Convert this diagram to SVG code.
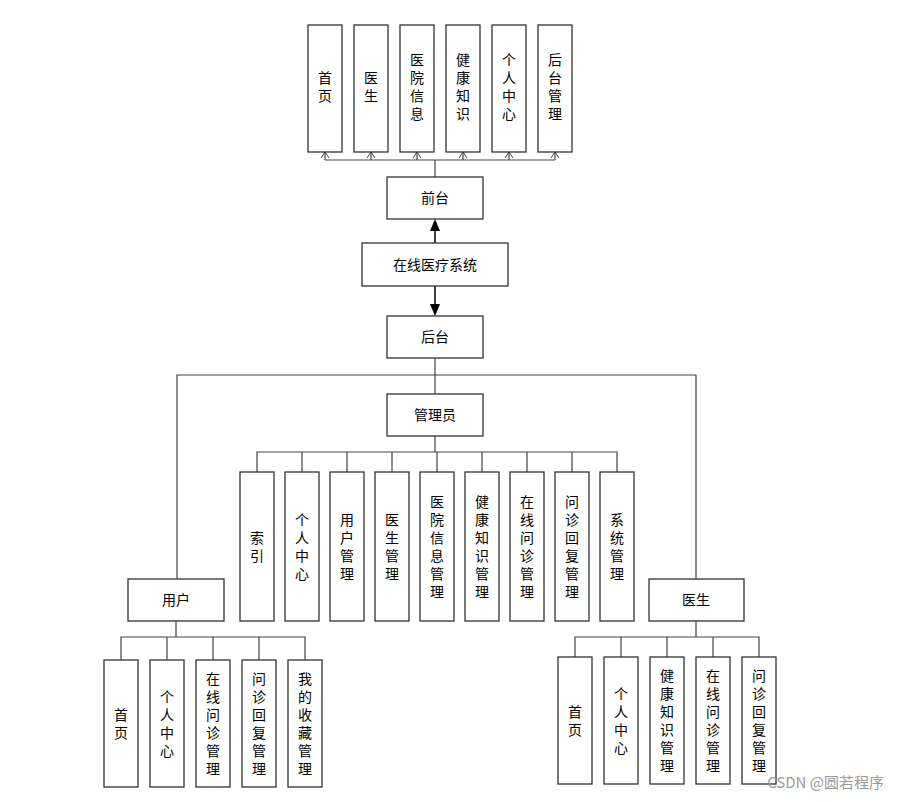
<svg xmlns="http://www.w3.org/2000/svg" width="898" height="802" viewBox="0 0 898 802">
<style>
.b{fill:#fff;stroke:#333;stroke-width:1.3}
.t{font-family:"Noto Sans CJK SC",sans-serif;font-size:14px;fill:#000;text-anchor:middle}
.l{fill:none;stroke:#444;stroke-width:1.2}
</style>
<defs>
<marker id="oa" markerWidth="8" markerHeight="10" refX="7" refY="5" orient="auto" markerUnits="userSpaceOnUse" viewBox="0 0 8 10"><path d="M1,1 L7,5 L1,9" fill="none" stroke="#444" stroke-width="1"/></marker>
</defs>
<rect width="898" height="802" fill="#fff"/>
<g id="connectors">
<path class="l" d="M325,160H555M435,160V177"/>
<path class="l" marker-end="url(#oa)" d="M325,160V152"/>
<path class="l" marker-end="url(#oa)" d="M371,160V152"/>
<path class="l" marker-end="url(#oa)" d="M417,160V152"/>
<path class="l" marker-end="url(#oa)" d="M463,160V152"/>
<path class="l" marker-end="url(#oa)" d="M509,160V152"/>
<path class="l" marker-end="url(#oa)" d="M555,160V152"/>
<path d="M435,243V231" stroke="#000" stroke-width="1.5" fill="none"/>
<path d="M435,231 l-5,0 l5,-12 l5,12 z" fill="#000"/>
<path d="M435,286V304" stroke="#000" stroke-width="1.5" fill="none"/>
<path d="M430,304 l10,0 l-5,12 z" fill="#000"/>
<path class="l" d="M435,358V394M177,579V375H696V579"/>
<path class="l" d="M435,436V452M257,472V452H617V472M302,452V472M347,452V472M392,452V472M437,452V472M482,452V472M527,452V472M572,452V472"/>
<path class="l" d="M176,621V637M121,660V637H305V660M167,637V660M213,637V660M259,637V660"/>
<path class="l" d="M696,621V637M575,657V637H759V657M621,637V657M667,637V657M713,637V657"/>
</g>
<g id="top">
<rect class="b" x="308" y="25" width="34" height="127"/><text class="t"><tspan x="325" y="83">首</tspan><tspan x="325" y="101">页</tspan></text>
<rect class="b" x="354" y="25" width="34" height="127"/><text class="t"><tspan x="371" y="83">医</tspan><tspan x="371" y="101">生</tspan></text>
<rect class="b" x="400" y="25" width="34" height="127"/><text class="t"><tspan x="417" y="65">医</tspan><tspan x="417" y="83">院</tspan><tspan x="417" y="101">信</tspan><tspan x="417" y="119">息</tspan></text>
<rect class="b" x="446" y="25" width="34" height="127"/><text class="t"><tspan x="463" y="65">健</tspan><tspan x="463" y="83">康</tspan><tspan x="463" y="101">知</tspan><tspan x="463" y="119">识</tspan></text>
<rect class="b" x="492" y="25" width="34" height="127"/><text class="t"><tspan x="509" y="65">个</tspan><tspan x="509" y="83">人</tspan><tspan x="509" y="101">中</tspan><tspan x="509" y="119">心</tspan></text>
<rect class="b" x="538" y="25" width="34" height="127"/><text class="t"><tspan x="555" y="65">后</tspan><tspan x="555" y="83">台</tspan><tspan x="555" y="101">管</tspan><tspan x="555" y="119">理</tspan></text>
</g>
<g id="qiantai"><rect class="b" x="387" y="177" width="96" height="42"/><text class="t" x="435" y="203">前台</text></g>
<g id="system"><rect class="b" x="362" y="243" width="146" height="43"/><text class="t" x="435" y="270">在线医疗系统</text></g>
<g id="houtai"><rect class="b" x="387" y="316" width="96" height="42"/><text class="t" x="435" y="342">后台</text></g>
<g id="admin"><rect class="b" x="387" y="394" width="96" height="42"/><text class="t" x="435" y="420">管理员</text></g>
<g id="admin-children">
<rect class="b" x="240" y="472" width="34" height="149"/><text class="t"><tspan x="257" y="543">索</tspan><tspan x="257" y="561">引</tspan></text>
<rect class="b" x="285" y="472" width="34" height="149"/><text class="t"><tspan x="302" y="525">个</tspan><tspan x="302" y="543">人</tspan><tspan x="302" y="561">中</tspan><tspan x="302" y="579">心</tspan></text>
<rect class="b" x="330" y="472" width="34" height="149"/><text class="t"><tspan x="347" y="525">用</tspan><tspan x="347" y="543">户</tspan><tspan x="347" y="561">管</tspan><tspan x="347" y="579">理</tspan></text>
<rect class="b" x="375" y="472" width="34" height="149"/><text class="t"><tspan x="392" y="525">医</tspan><tspan x="392" y="543">生</tspan><tspan x="392" y="561">管</tspan><tspan x="392" y="579">理</tspan></text>
<rect class="b" x="420" y="472" width="34" height="149"/><text class="t"><tspan x="437" y="507">医</tspan><tspan x="437" y="525">院</tspan><tspan x="437" y="543">信</tspan><tspan x="437" y="561">息</tspan><tspan x="437" y="579">管</tspan><tspan x="437" y="597">理</tspan></text>
<rect class="b" x="465" y="472" width="34" height="149"/><text class="t"><tspan x="482" y="507">健</tspan><tspan x="482" y="525">康</tspan><tspan x="482" y="543">知</tspan><tspan x="482" y="561">识</tspan><tspan x="482" y="579">管</tspan><tspan x="482" y="597">理</tspan></text>
<rect class="b" x="510" y="472" width="34" height="149"/><text class="t"><tspan x="527" y="507">在</tspan><tspan x="527" y="525">线</tspan><tspan x="527" y="543">问</tspan><tspan x="527" y="561">诊</tspan><tspan x="527" y="579">管</tspan><tspan x="527" y="597">理</tspan></text>
<rect class="b" x="555" y="472" width="34" height="149"/><text class="t"><tspan x="572" y="507">问</tspan><tspan x="572" y="525">诊</tspan><tspan x="572" y="543">回</tspan><tspan x="572" y="561">复</tspan><tspan x="572" y="579">管</tspan><tspan x="572" y="597">理</tspan></text>
<rect class="b" x="600" y="472" width="34" height="149"/><text class="t"><tspan x="617" y="525">系</tspan><tspan x="617" y="543">统</tspan><tspan x="617" y="561">管</tspan><tspan x="617" y="579">理</tspan></text>
</g>
<g id="user"><rect class="b" x="128" y="579" width="96" height="42"/><text class="t" x="176" y="605">用户</text></g>
<g id="user-children">
<rect class="b" x="104" y="660" width="34" height="127"/><text class="t"><tspan x="121" y="720">首</tspan><tspan x="121" y="738">页</tspan></text>
<rect class="b" x="150" y="660" width="34" height="127"/><text class="t"><tspan x="167" y="702">个</tspan><tspan x="167" y="720">人</tspan><tspan x="167" y="738">中</tspan><tspan x="167" y="756">心</tspan></text>
<rect class="b" x="196" y="660" width="34" height="127"/><text class="t"><tspan x="213" y="684">在</tspan><tspan x="213" y="702">线</tspan><tspan x="213" y="720">问</tspan><tspan x="213" y="738">诊</tspan><tspan x="213" y="756">管</tspan><tspan x="213" y="774">理</tspan></text>
<rect class="b" x="242" y="660" width="34" height="127"/><text class="t"><tspan x="259" y="684">问</tspan><tspan x="259" y="702">诊</tspan><tspan x="259" y="720">回</tspan><tspan x="259" y="738">复</tspan><tspan x="259" y="756">管</tspan><tspan x="259" y="774">理</tspan></text>
<rect class="b" x="288" y="660" width="34" height="127"/><text class="t"><tspan x="305" y="684">我</tspan><tspan x="305" y="702">的</tspan><tspan x="305" y="720">收</tspan><tspan x="305" y="738">藏</tspan><tspan x="305" y="756">管</tspan><tspan x="305" y="774">理</tspan></text>
</g>
<g id="doctor"><rect class="b" x="649" y="579" width="95" height="42"/><text class="t" x="696" y="605">医生</text></g>
<g id="doctor-children">
<rect class="b" x="558" y="657" width="34" height="127"/><text class="t"><tspan x="575" y="717">首</tspan><tspan x="575" y="735">页</tspan></text>
<rect class="b" x="604" y="657" width="34" height="127"/><text class="t"><tspan x="621" y="699">个</tspan><tspan x="621" y="717">人</tspan><tspan x="621" y="735">中</tspan><tspan x="621" y="753">心</tspan></text>
<rect class="b" x="650" y="657" width="34" height="127"/><text class="t"><tspan x="667" y="681">健</tspan><tspan x="667" y="699">康</tspan><tspan x="667" y="717">知</tspan><tspan x="667" y="735">识</tspan><tspan x="667" y="753">管</tspan><tspan x="667" y="771">理</tspan></text>
<rect class="b" x="696" y="657" width="34" height="127"/><text class="t"><tspan x="713" y="681">在</tspan><tspan x="713" y="699">线</tspan><tspan x="713" y="717">问</tspan><tspan x="713" y="735">诊</tspan><tspan x="713" y="753">管</tspan><tspan x="713" y="771">理</tspan></text>
<rect class="b" x="742" y="657" width="34" height="127"/><text class="t"><tspan x="759" y="681">问</tspan><tspan x="759" y="699">诊</tspan><tspan x="759" y="717">回</tspan><tspan x="759" y="735">复</tspan><tspan x="759" y="753">管</tspan><tspan x="759" y="771">理</tspan></text>
</g>
<text x="884" y="788" font-family="Noto Sans CJK SC,sans-serif" font-size="15" fill="#999" text-anchor="end">CSDN @圆若程序</text>
</svg>
